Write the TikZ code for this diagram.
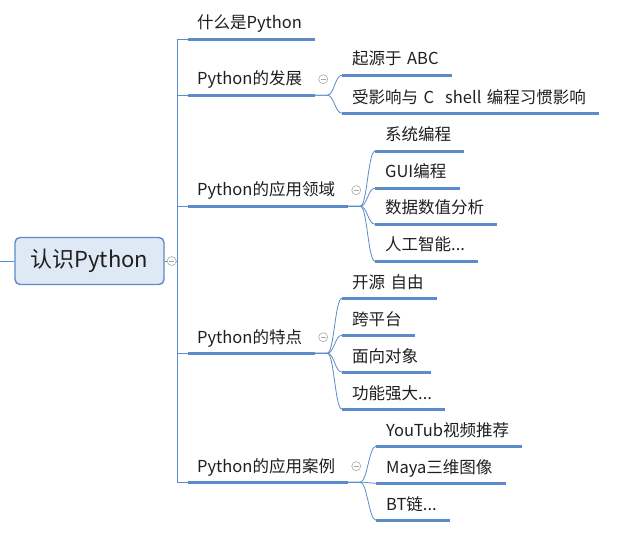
\documentclass[tikz,border=0pt]{standalone}
\usepackage{fontspec}
\setmainfont{Noto Sans CJK SC}
\definecolor{linkblue}{HTML}{5B8BC8}
\definecolor{rootfill}{HTML}{DFE8F5}
\definecolor{foldgray}{HTML}{A8A8A8}
\newcommand\etcdots{...}
\newcommand\topicfont{\fontsize{16.5}{18}\selectfont\spaceskip=5.5pt\relax}
\tikzset{
  rootbox/.style={draw=linkblue, fill=rootfill, rounded corners=5pt, line width=1.4pt,
    minimum width=149pt, minimum height=47pt, font=\fontsize{22}{24}\selectfont, text=black!88},
  topic/.style={anchor=base west, inner sep=0pt, text depth=10pt,
    font=\topicfont, text=black!88},
  uline/.style={linkblue, line width=2.8pt},
  link/.style={linkblue, line width=0.8pt},
  fold/.style={circle, draw=foldgray, fill=white, inner sep=0pt, minimum size=9pt, line width=0.6pt,
    path picture={\draw[foldgray, line width=0.6pt]
      ([xshift=-2.3pt]path picture bounding box.center) -- ([xshift=2.3pt]path picture bounding box.center);}},
}
\begin{document}
\begin{tikzpicture}[x=1pt,y=-1pt]
\useasboundingbox (0,0) rectangle (641,535);
% root
\node[rootbox] (root) at (89.5,261) {认识Python};
\coordinate (rootin) at (0,261);
\draw[link] (rootin) -- (root.west);
% main topics
\foreach \n/\y/\t in {b1/29/什么是Python, b2/85/Python的发展, b3/196/Python的应用领域,
                      b4/343/Python的特点, b5/472/Python的应用案例}{
  \node[topic] (\n) at (197,\y) {\t};
  \draw[link] (root.east) -- ++(13,0) |- ([xshift=-9pt]\n.south west);
  \draw[uline] ([xshift=-9pt]\n.south west) -- ([xshift=13pt]\n.south east);
}
% sub topics
\foreach \p/\n/\x/\y/\t in {b2/c21/352/65/起源于 ABC, b2/c22/352/103/受影响与 C\ \ shell 编程习惯影响,
    b3/c31/385/141/系统编程, b3/c32/385/178/GUI编程, b3/c33/385/214/数据数值分析, b3/c34/385/251/人工智能\etcdots,
    b4/c41/352/288/开源 自由, b4/c42/352/325/跨平台, b4/c43/352/362/面向对象, b4/c44/352/399/功能强大\etcdots,
    b5/c51/386/436/YouTub视频推荐, b5/c52/386/473/Maya三维图像, b5/c53/386/510/BT链\etcdots}{
  \node[topic] (\n) at (\x,\y) {\t};
  \draw[link] ([xshift=13pt]\p.south east) -- ++(12,0)
    .. controls +(7,0) and +(-7,0) .. ([xshift=-10pt]\n.south west);
  \draw[uline] ([xshift=-10pt]\n.south west) -- ([xshift=13pt]\n.south east);
}
% fold marks
\node[fold] (f0) at ([xshift=7pt]root.east) {};
\foreach \p in {b2,b3,b4,b5}
  \node[fold] (f\p) at ([xshift=21pt,yshift=16pt]\p.south east) {};
\end{tikzpicture}
\end{document}
